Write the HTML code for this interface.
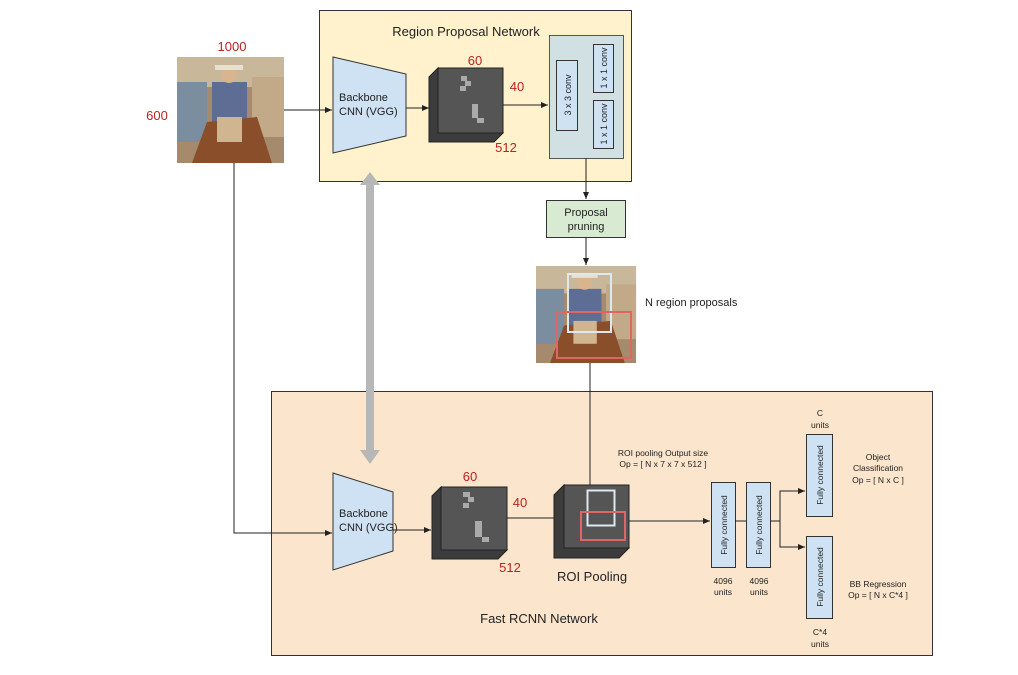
<!DOCTYPE html>
<html><head><meta charset="utf-8"><style>
html,body{margin:0;padding:0;background:#fff;}
svg{display:block;font-family:"Liberation Sans",sans-serif;}
</style></head><body>
<svg width="1018" height="675" viewBox="0 0 1018 675" xmlns="http://www.w3.org/2000/svg">
<defs>
<marker id="a" markerWidth="8" markerHeight="8" refX="7" refY="4" orient="auto" markerUnits="userSpaceOnUse"><path d="M0,1 L7,4 L0,7 z" fill="#222"/></marker>
<g id="photo">
<rect x="0" y="0" width="107" height="106" fill="#a58a6e"/>
<rect x="0" y="0" width="107" height="30" fill="#c9b79a"/>
<rect x="0" y="25" width="30" height="60" fill="#7b8ea0"/>
<rect x="75" y="20" width="32" height="60" fill="#c2a987"/>
<rect x="35" y="25" width="35" height="40" fill="#5d6d94"/>
<circle cx="52" cy="18" r="8" fill="#d8b48f"/>
<rect x="38" y="8" width="28" height="5" fill="#e8e0d0"/>
<path d="M15,106 L30,65 L80,60 L95,106 z" fill="#8a4e2b"/>
<rect x="40" y="60" width="25" height="25" fill="#d0b690"/>
</g>
</defs>

<!-- RPN box -->
<rect x="319.5" y="10.5" width="312" height="171" fill="#fff2cc" stroke="#333"/>
<text x="466" y="36" font-size="13" text-anchor="middle" fill="#222">Region Proposal Network</text>

<!-- Fast RCNN box -->
<rect x="271.5" y="391.5" width="661" height="264" fill="#fce5cd" stroke="#333"/>
<text x="539" y="623" font-size="13" text-anchor="middle" fill="#222">Fast RCNN Network</text>

<!-- input image -->
<use href="#photo" x="177" y="57"/>
<text x="232" y="51" font-size="13" text-anchor="middle" fill="#b22">1000</text>
<text x="157" y="120" font-size="13" text-anchor="middle" fill="#b22">600</text>

<!-- connectors -->
<line x1="284" y1="110" x2="332" y2="110" stroke="#222" marker-end="url(#a)"/>
<polyline points="234,163 234,533 332,533" fill="none" stroke="#222" marker-end="url(#a)"/>

<!-- backbone 1 -->
<polygon points="333,57 406,74 406,136 333,153" fill="#cfe2f3" stroke="#333"/>
<text x="339" y="101" font-size="11" fill="#222">Backbone</text>
<text x="339" y="115" font-size="11" fill="#222">CNN (VGG)</text>
<line x1="406" y1="108" x2="429" y2="108" stroke="#222" marker-end="url(#a)"/>

<!-- cube 1 -->
<polygon points="438,68 429,77 429,142 494,142 503,133 438,133" fill="#3c3c3c" stroke="#222"/>
<rect x="438" y="68" width="65" height="65" fill="#555" stroke="#222"/>
<rect x="461" y="76" width="6" height="5" fill="#aaa"/><rect x="465" y="81" width="6" height="5" fill="#aaa"/><rect x="460" y="86" width="6" height="5" fill="#aaa"/>
<rect x="472" y="104" width="6" height="14" fill="#aaa"/><rect x="477" y="118" width="7" height="5" fill="#aaa"/>
<text x="475" y="65" font-size="13" text-anchor="middle" fill="#b22">60</text>
<text x="517" y="91" font-size="13" text-anchor="middle" fill="#b22">40</text>
<text x="506" y="152" font-size="13" text-anchor="middle" fill="#b22">512</text>
<line x1="503" y1="105" x2="548" y2="105" stroke="#222" marker-end="url(#a)"/>

<!-- RPN head -->
<rect x="549.5" y="35.5" width="74" height="123" fill="#d0e0e3" stroke="#555"/>
<rect x="556.5" y="60.5" width="21" height="70" fill="#cfe2f3" stroke="#333"/>
<rect x="593.5" y="44.5" width="20" height="48" fill="#cfe2f3" stroke="#333"/>
<rect x="593.5" y="100.5" width="20" height="48" fill="#cfe2f3" stroke="#333"/>
<text transform="translate(571,95) rotate(-90)" font-size="9" text-anchor="middle" fill="#222">3 x 3 conv</text>
<text transform="translate(607,68) rotate(-90)" font-size="9" text-anchor="middle" fill="#222">1 x 1  conv</text>
<text transform="translate(607,124) rotate(-90)" font-size="9" text-anchor="middle" fill="#222">1 x 1  conv</text>
<line x1="586" y1="158" x2="586" y2="199" stroke="#222" marker-end="url(#a)"/>

<!-- proposal pruning -->
<rect x="546.5" y="200.5" width="79" height="37" fill="#d9ead3" stroke="#333"/>
<text x="586" y="216" font-size="11" text-anchor="middle" fill="#222">Proposal</text>
<text x="586" y="230" font-size="11" text-anchor="middle" fill="#222">pruning</text>
<line x1="586" y1="237" x2="586" y2="265" stroke="#222" marker-end="url(#a)"/>

<!-- proposal image -->
<use href="#photo" transform="translate(536,266) scale(0.935,0.915)"/>
<rect x="568" y="274" width="43" height="58" fill="none" stroke="#dde8ef" stroke-width="2"/>
<rect x="557" y="312" width="74" height="46" fill="none" stroke="#e06666" stroke-width="2"/>
<text x="645" y="306" font-size="11" fill="#222">N region proposals</text>
<line x1="590" y1="363" x2="590" y2="492" stroke="#222" marker-end="url(#a)"/>

<!-- gray double arrow -->
<rect x="366" y="181" width="8" height="271" fill="#b7b7b7"/>
<polygon points="360,185 370,172 380,185" fill="#b7b7b7"/>
<polygon points="360,450 370,464 380,450" fill="#b7b7b7"/>

<!-- backbone 2 -->
<polygon points="333,473 393,492 393,551 333,570" fill="#cfe2f3" stroke="#333"/>
<text x="339" y="517" font-size="11" fill="#222">Backbone</text>
<text x="339" y="531" font-size="11" fill="#222">CNN (VGG)</text>
<line x1="393" y1="530" x2="431" y2="530" stroke="#222" marker-end="url(#a)"/>

<!-- cube 2 -->
<polygon points="441,487 432,496 432,559 498,559 507,550 441,550" fill="#3c3c3c" stroke="#222"/>
<rect x="441" y="487" width="66" height="63" fill="#555" stroke="#222"/>
<rect x="463" y="492" width="7" height="5" fill="#aaa"/><rect x="468" y="497" width="6" height="5" fill="#aaa"/><rect x="463" y="503" width="6" height="5" fill="#aaa"/>
<rect x="475" y="521" width="7" height="16" fill="#aaa"/><rect x="482" y="537" width="7" height="5" fill="#aaa"/>
<text x="470" y="481" font-size="13" text-anchor="middle" fill="#b22">60</text>
<text x="520" y="507" font-size="13" text-anchor="middle" fill="#b22">40</text>
<text x="510" y="572" font-size="13" text-anchor="middle" fill="#b22">512</text>
<line x1="507" y1="518" x2="556" y2="518" stroke="#222"/>

<!-- ROI cube -->
<polygon points="564,485 554,495 554,558 619,558 629,548 564,548" fill="#3c3c3c" stroke="#222"/>
<rect x="564" y="485" width="65" height="63" fill="#555" stroke="#222"/>
<rect x="587.5" y="490.5" width="27" height="35" fill="none" stroke="#dde8ef" stroke-width="2"/>
<rect x="581" y="512" width="44" height="28" fill="none" stroke="#e06666" stroke-width="2"/>
<text x="592" y="581" font-size="13" text-anchor="middle" fill="#222">ROI Pooling</text>
<text x="663" y="456" font-size="8.5" text-anchor="middle" fill="#222">ROI pooling Output size</text>
<text x="663" y="467" font-size="8.5" text-anchor="middle" fill="#222">Op = [ N x 7 x 7 x 512 ]</text>
<line x1="629" y1="521" x2="710" y2="521" stroke="#222" marker-end="url(#a)"/>

<!-- FC layers -->
<rect x="711.5" y="482.5" width="24" height="85" fill="#cfe2f3" stroke="#333"/>
<rect x="746.5" y="482.5" width="24" height="85" fill="#cfe2f3" stroke="#333"/>
<text transform="translate(727,525) rotate(-90)" font-size="8.5" text-anchor="middle" fill="#222">Fully connected</text>
<text transform="translate(762,525) rotate(-90)" font-size="8.5" text-anchor="middle" fill="#222">Fully connected</text>
<line x1="735" y1="521" x2="746" y2="521" stroke="#222"/>
<text x="723" y="584" font-size="8.5" text-anchor="middle" fill="#222">4096</text>
<text x="723" y="595" font-size="8.5" text-anchor="middle" fill="#222">units</text>
<text x="759" y="584" font-size="8.5" text-anchor="middle" fill="#222">4096</text>
<text x="759" y="595" font-size="8.5" text-anchor="middle" fill="#222">units</text>
<polyline points="770,521 780,521 780,491 805,491" fill="none" stroke="#222" marker-end="url(#a)"/>
<polyline points="780,521 780,547 805,547" fill="none" stroke="#222" marker-end="url(#a)"/>

<rect x="806.5" y="434.5" width="26" height="82" fill="#cfe2f3" stroke="#333"/>
<rect x="806.5" y="536.5" width="26" height="82" fill="#cfe2f3" stroke="#333"/>
<text transform="translate(823,475) rotate(-90)" font-size="8.5" text-anchor="middle" fill="#222">Fully connected</text>
<text transform="translate(823,577) rotate(-90)" font-size="8.5" text-anchor="middle" fill="#222">Fully connected</text>
<text x="820" y="416" font-size="8.5" text-anchor="middle" fill="#222">C</text>
<text x="820" y="428" font-size="8.5" text-anchor="middle" fill="#222">units</text>
<text x="820" y="635" font-size="8.5" text-anchor="middle" fill="#222">C*4</text>
<text x="820" y="647" font-size="8.5" text-anchor="middle" fill="#222">units</text>
<text x="878" y="460" font-size="8.5" text-anchor="middle" fill="#222">Object</text>
<text x="878" y="471" font-size="8.5" text-anchor="middle" fill="#222">Classification</text>
<text x="878" y="483" font-size="8.5" text-anchor="middle" fill="#222">Op = [ N x C ]</text>
<text x="878" y="587" font-size="8.5" text-anchor="middle" fill="#222">BB Regression</text>
<text x="878" y="598" font-size="8.5" text-anchor="middle" fill="#222">Op = [ N x C*4 ]</text>
</svg>
</body></html>
